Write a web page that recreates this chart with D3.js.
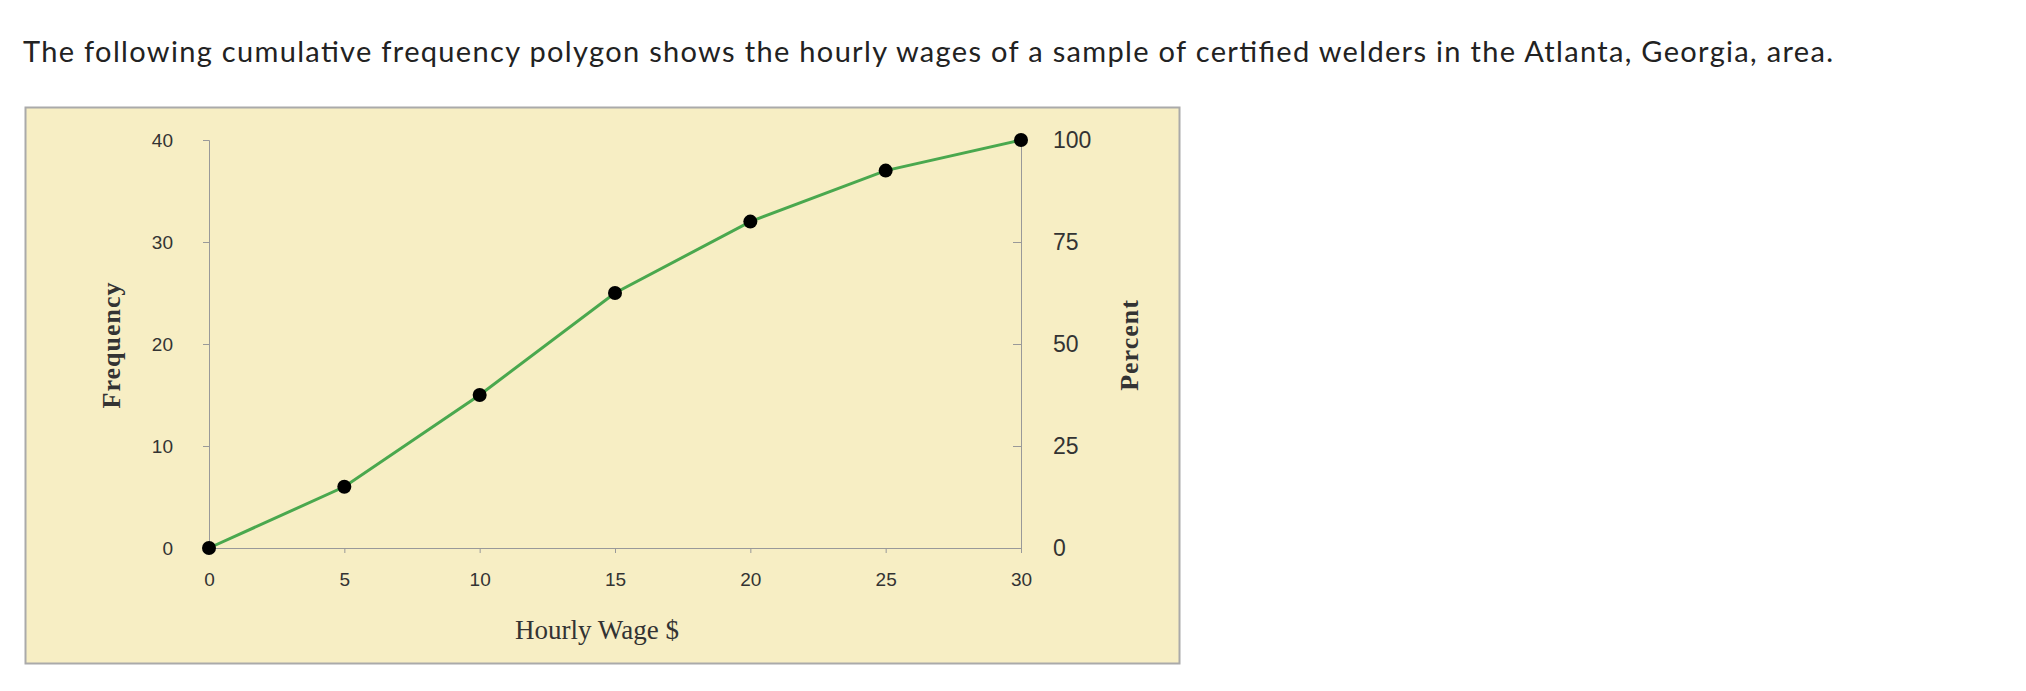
<!DOCTYPE html><html><head><meta charset="utf-8">
<script src="https://cdn.jsdelivr.net/npm/d3@7"></script>
<style>body{margin:0;background:#fff}</style></head><body>
<svg id="c" width="2026" height="691"></svg>
<script>
const wages=[0,5,10,15,20,25,30];
const freq=[0,6,15,25,32,37,40];
const leftTicks=[0,10,20,30,40];
const rightTicks=[0,25,50,75,100];
const svg=d3.select("#c");
svg.append("text").attr("x",23).attr("y",62).attr("font-family","Lato").attr("font-size",29).attr("fill","#222")
 .attr("textLength",1810).attr("lengthAdjust","spacing")
 .text("The following cumulative frequency polygon shows the hourly wages of a sample of certified welders in the Atlanta, Georgia, area.");
svg.append("rect").attr("x",25.5).attr("y",107.5).attr("width",1154).attr("height",556).attr("fill","#f7eec4").attr("stroke","#aaa").attr("stroke-width",2);
const x=d3.scaleLinear().domain([0,30]).range([209,1021]);
const y=d3.scaleLinear().domain([0,40]).range([548,140]);
const yp=d3.scaleLinear().domain([0,100]).range([548,140]);
const g=svg.append("g");
const lg=g.append("g").attr("transform","translate(209,0)").call(d3.axisLeft(y).tickValues(leftTicks).tickSize(6).tickPadding(30));
lg.selectAll("text").attr("font-family","Liberation Sans Narrow, Liberation Sans").attr("font-size",19).attr("fill","#333");
const rg=g.append("g").attr("transform","translate(1021,0)").call(d3.axisLeft(yp).tickValues(rightTicks).tickSize(8).tickPadding(-40));
rg.selectAll("text").attr("text-anchor","start").attr("font-family","Liberation Sans").attr("font-size",23).attr("fill","#333");
const xg=g.append("g").attr("transform","translate(0,548)").call(d3.axisBottom(x).tickValues(wages).tickSize(5).tickPadding(20));
xg.selectAll("text").attr("font-family","Liberation Sans Narrow, Liberation Sans").attr("font-size",19).attr("fill","#333");
g.selectAll(".domain").attr("stroke","#999");
g.selectAll(".tick line").attr("stroke","#999");
const pts=wages.map((w,i)=>[w,freq[i]]);
g.append("path").attr("d",d3.line().x(d=>x(d[0])).y(d=>y(d[1]))(pts)).attr("fill","none").attr("stroke","#4aa84e").attr("stroke-width",3);
g.selectAll("circle").data(pts).join("circle").attr("cx",d=>x(d[0])).attr("cy",d=>y(d[1])).attr("r",7).attr("fill","#000");
svg.append("text").attr("transform","translate(120,345) rotate(-90)").attr("text-anchor","middle").attr("font-family","Liberation Serif").attr("font-weight","bold").attr("font-size",26).attr("letter-spacing",1).attr("fill","#333").text("Frequency");
svg.append("text").attr("transform","translate(1138,345) rotate(-90)").attr("text-anchor","middle").attr("font-family","Liberation Serif").attr("font-weight","bold").attr("font-size",26).attr("letter-spacing",1).attr("fill","#333").text("Percent");
svg.append("text").attr("x",597).attr("y",639).attr("text-anchor","middle").attr("font-family","Liberation Serif").attr("font-size",27).attr("fill","#333").text("Hourly Wage $");
</script></body></html>
